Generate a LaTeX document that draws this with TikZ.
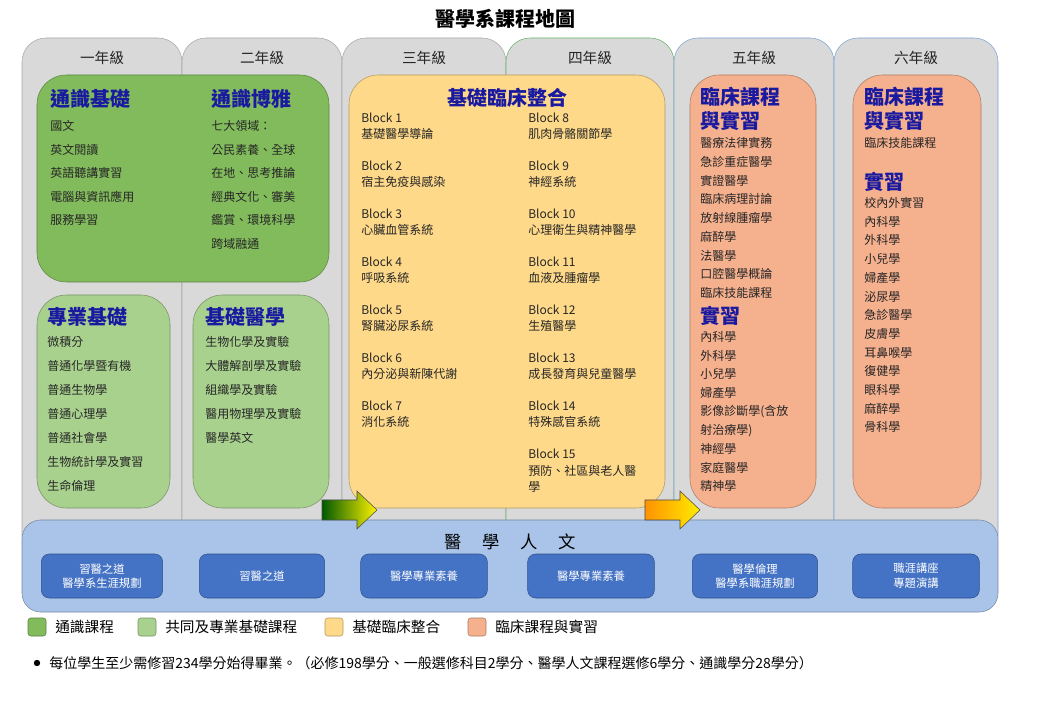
\documentclass[tikz,border=0pt]{standalone}
\usepackage{fontspec}
\setmainfont{Noto Sans CJK TC}
\definecolor{tabgray}{HTML}{D9D9D9}
\definecolor{gdark}{HTML}{82BB5C}
\definecolor{glight}{HTML}{A9D18E}
\definecolor{yel}{HTML}{FFD98A}
\definecolor{ora}{HTML}{F5B08E}
\definecolor{head}{HTML}{1A1AA0}
\definecolor{bband}{HTML}{A9C4E8}
\definecolor{bbox}{HTML}{4472C4}
\definecolor{txt}{HTML}{262626}
\definecolor{tabblue}{HTML}{7BA3D4}
\tikzset{
 tab/.style={draw=gray!70, fill=tabgray, rounded corners=18},
 area/.style={draw=#1!70!black, fill=#1, rounded corners=22},
 hd/.style={anchor=west, font=\fontsize{15}{17}\selectfont\bfseries, text=head, inner sep=0},
 it/.style={anchor=west, font=\fontsize{9}{10}\selectfont, text=txt, inner sep=0},
 yr/.style={font=\fontsize{11}{12}\selectfont, text=txt},
 hbox/.style={draw=bbox!70!black, fill=bbox, rounded corners=6, text=white, align=center, font=\fontsize{8.5}{11}\selectfont},
 leg/.style={draw=#1!70!black, fill=#1, rounded corners=2, minimum width=13.5pt, minimum height=13.5pt, inner sep=0},
 legt/.style={anchor=west, font=\fontsize{11}{12}\selectfont, inner sep=0},
 arrline/.style={draw=gray!60!black, shading=axis, shading angle=90}
}
\begin{document}
\begin{tikzpicture}[x=0.75pt,y=-0.75pt]
\useasboundingbox (0,0) rectangle (1040,720);
\node (title) at (505,19) {\fontsize{15}{17}\selectfont\bfseries 醫學系課程地圖};
% year tabs
\draw[tab] (22,560) -- (22,38) -- (182,38) -- (182,560) -- cycle;
\draw[tab] (182,560) -- (182,38) -- (342,38) -- (342,560) -- cycle;
\draw[tab] (342,560) -- (342,38) -- (506,38) -- (506,560) -- cycle;
\draw[tab,draw=green!50!black!60] (506,560) -- (506,38) -- (674,38) -- (674,560) -- cycle;
\draw[tab,draw=tabblue] (674,560) -- (674,38) -- (834,38) -- (834,560) -- cycle;
\draw[tab,draw=tabblue] (834,560) -- (834,38) -- (998,38) -- (998,560) -- cycle;
\node[yr] (y1) at (102,58) {一年級};
\node[yr] (y2) at (262,58) {二年級};
\node[yr] (y3) at (424,58) {三年級};
\node[yr] (y4) at (590,58) {四年級};
\node[yr] (y5) at (754,58) {五年級};
\node[yr] (y6) at (916,58) {六年級};
% areas
\draw[area=gdark] (37,75) rectangle (329,282);
\draw[area=glight] (37,295) rectangle (170,508);
\draw[area=glight] (193,295) rectangle (329,508);
\draw[area=yel] (349,75) rectangle (665,508);
\draw[area=ora] (690,75) rectangle (816,508);
\draw[area=ora] (853,75) rectangle (981,508);
% green
\node[hd] (h1) at (50,99) {通識基礎};
\foreach \t [count=\i] in {國文,英文閱讀,英語聽講實習,電腦與資訊應用,服務學習}
  \node[it] (a\i) at (50,126+23.6*\i-23.6) {\t};
\node[hd] (h2) at (211,99) {通識博雅};
\foreach \t [count=\i] in {七大領域：,公民素養、全球,在地、思考推論,經典文化、審美,鑑賞、環境科學,跨域融通}
  \node[it] (b\i) at (211,126+23.6*\i-23.6) {\t};
\node[hd] (h3) at (47,317) {專業基礎};
\foreach \t [count=\i] in {微積分,普通化學暨有機,普通生物學,普通心理學,普通社會學,生物統計學及實習,生命倫理}
  \node[it] (c\i) at (47,342+24*\i-24) {\t};
\node[hd] (h4) at (205,317) {基礎醫學};
\foreach \t [count=\i] in {生物化學及實驗,大體解剖學及實驗,組織學及實驗,醫用物理學及實驗,醫學英文}
  \node[it] (d\i) at (205,342+24*\i-24) {\t};
% yellow
\node[font=\fontsize{15}{17}\selectfont\bfseries, text=head] (h5) at (507,98) {基礎臨床整合};
\foreach \t [count=\i] in {基礎醫學導論,宿主免疫與感染,心臟血管系統,呼吸系統,腎臟泌尿系統,內分泌與新陳代謝,消化系統}{
  \node[it] (bl\i) at (361,118+48*\i-48) {Block \i};
  \node[it] (bc\i) at (361,134+48*\i-48) {\t};}
\foreach \t [count=\i] in {肌肉骨骼關節學,神經系統,心理衛生與精神醫學,血液及腫瘤學,生殖醫學,成長發育與兒童醫學,特殊感官系統}{
  \pgfmathtruncatemacro{\n}{\i+7}
  \node[it] (br\i) at (528,118+48*\i-48) {Block \n};
  \node[it] (brc\i) at (528,134+48*\i-48) {\t};}
\node[it] (b15) at (528,454) {Block 15};
\node[it] (b15a) at (528,471) {預防、社區與老人醫};
\node[it] (b15b) at (528,487) {學};
% year 5
\node[hd] (h6) at (700,97) {臨床課程};
\node[hd] (h6b) at (700,121) {與實習};
\foreach \t [count=\i] in {醫療法律實務,急診重症醫學,實證醫學,臨床病理討論,放射線腫瘤學,麻醉學,法醫學,口腔醫學概論,臨床技能課程}
  \node[it] (e\i) at (700,143+18.75*\i-18.75) {\t};
\node[hd] (h7) at (700,316) {實習};
\foreach \t [count=\i] in {內科學,外科學,小兒學,婦產學,影像診斷學(含放,射治療學),神經學,家庭醫學,精神學}
  \node[it] (f\i) at (700,337+18.65*\i-18.65) {\t};
% year 6
\node[hd] (h8) at (864,97) {臨床課程};
\node[hd] (h8b) at (864,121) {與實習};
\node[it] (g0) at (864,143) {臨床技能課程};
\node[hd] (h9) at (864,182) {實習};
\foreach \t [count=\i] in {校內外實習,內科學,外科學,小兒學,婦產學,泌尿學,急診醫學,皮膚學,耳鼻喉學,復健學,眼科學,麻醉學,骨科學}
  \node[it] (g\i) at (864,203+18.7*\i-18.7) {\t};
% blue band
\draw[draw=bband!70!black, fill=bband, rounded corners=14] (22,520) rectangle (998,612);
\node[font=\fontsize{13}{14}\selectfont] (mh) at (510,542) {醫\hspace{1.2em}學\hspace{1.2em}人\hspace{1.2em}文};
\node[hbox, minimum width=91pt, minimum height=33pt] (k1) at (102,576) {習醫之道\\醫學系生涯規劃};
\node[hbox, minimum width=94pt, minimum height=33pt] (k2) at (262,576) {習醫之道};
\node[hbox, minimum width=95pt, minimum height=33pt] (k3) at (424,576) {醫學專業素養};
\node[hbox, minimum width=95pt, minimum height=33pt] (k4) at (591,576) {醫學專業素養};
\node[hbox, minimum width=94pt, minimum height=33pt] (k5) at (755,576) {醫學倫理\\醫學系職涯規劃};
\node[hbox, minimum width=95pt, minimum height=33pt] (k6) at (916,576) {職涯講座\\專題演講};
% arrows
\path[arrline, left color=green!35!black, right color=yellow!90!orange]
  (322,500) -- (357,500) -- (357,491) -- (377,510) -- (357,529) -- (357,520) -- (322,520) -- cycle;
\path[arrline, left color=orange!85!yellow, right color=yellow!85!orange]
  (645,500) -- (680,500) -- (680,491) -- (700,510) -- (680,529) -- (680,520) -- (645,520) -- cycle;
% legend
\node[leg=gdark] (l1) at (37,627) {};
\node[legt] (lt1) at (55,627) {通識課程};
\node[leg=glight] (l2) at (147,627) {};
\node[legt] (lt2) at (165,627) {共同及專業基礎課程};
\node[leg=yel] (l3) at (334,627) {};
\node[legt] (lt3) at (352,627) {基礎臨床整合};
\node[leg=ora] (l4) at (477,627) {};
\node[legt] (lt4) at (495,627) {臨床課程與實習};
\fill (37,663) circle (3.2);
\node[anchor=west, inner sep=0, font=\fontsize{10.5}{12}\selectfont] (foot) at (49,663) {每位學生至少需修習234學分始得畢業。（必修198學分、一般選修科目2學分、醫學人文課程選修6學分、通識學分28學分）};
\end{tikzpicture}
\end{document}
